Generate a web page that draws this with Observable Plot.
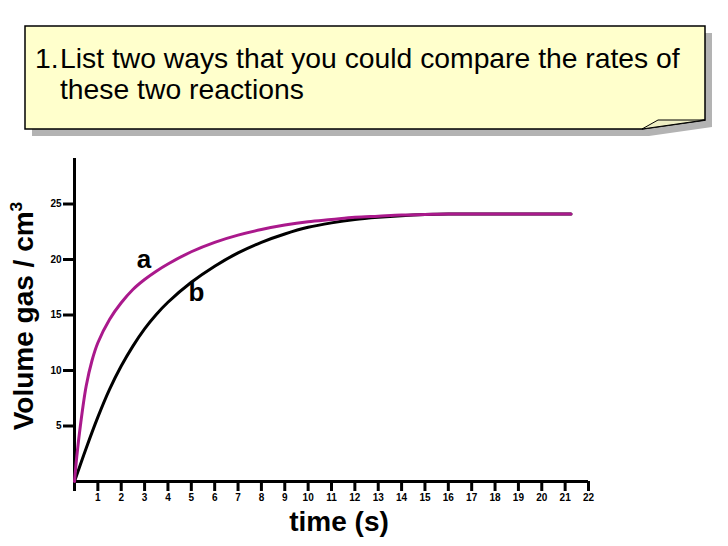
<!DOCTYPE html>
<html>
<head>
<meta charset="utf-8">
<script src="https://cdn.jsdelivr.net/npm/d3@7"></script>
<script src="https://cdn.jsdelivr.net/npm/@observablehq/plot@0.6"></script>
<style>
  html, body { margin: 0; padding: 0; background: #ffffff; }
  body { width: 728px; height: 546px; position: relative; overflow: hidden; font-family: "Liberation Sans", Arial, sans-serif; }
  #title { position: absolute; left: 0; top: 0; }
  #chart { position: absolute; left: 0; top: 140px; }
  #chart g[aria-label$="tick label"] text { font-weight: bold; font-size: 10px; }
  .axlabel { position: absolute; font-weight: bold; font-size: 28px; color: #000; white-space: nowrap; line-height: 1; }
  .axlabel sup { font-size: 0.62em; vertical-align: 0.62em; line-height: 0; }
  #ylab { left: 24px; top: 316px; transform: translate(-50%, -50%) rotate(-90deg); }
  #xlab { left: 339px; top: 508px; transform: translateX(-50%); }
</style>
</head>
<body>
<svg id="title" width="728" height="140" xmlns="http://www.w3.org/2000/svg">
  <polygon points="32,33 712,33 712,127 649,136 32,136" fill="#b3b3b3"/>
  <polygon points="25,26 705,26 705,120 642,129 25,129" fill="#ffffcc" stroke="#000" stroke-width="1.5"/>
  <polygon points="642,129 658,120 705,120" fill="#eeeec4" stroke="#000" stroke-width="1"/>
  <g font-family="Liberation Sans, Arial, sans-serif" font-size="28.3" fill="#000">
    <text x="35" y="68">1.</text>
    <text x="60" y="68">List two ways that you could compare the rates of</text>
    <text x="60" y="99">these two reactions</text>
  </g>
</svg>
<div id="chart"></div>
<div class="axlabel" id="ylab">Volume gas / cm<sup>3</sup></div>
<div class="axlabel" id="xlab">time (s)</div>
<script>
// Reaction a (magenta) and reaction b (black): time in s, volume in cm³
const timeA = [0, 0.1, 0.25, 0.5, 0.75, 1, 1.5, 2, 2.5, 3, 3.5, 4, 5, 6, 7, 8, 9, 10, 11, 12, 13, 14, 15, 16, 17, 18, 19, 20, 21, 21.25];
const volumeA = [0, 2.3, 5.0, 8.6, 10.9, 12.5, 14.6, 16.1, 17.3, 18.2, 18.95, 19.6, 20.7, 21.55, 22.2, 22.7, 23.1, 23.4, 23.6, 23.8, 23.9, 24.0, 24.05, 24.1, 24.1, 24.1, 24.1, 24.1, 24.1, 24.1];
const timeB = [0, 0.5, 1, 1.5, 2, 2.5, 3, 3.5, 4, 5, 6, 7, 8, 9, 10, 11, 12, 13, 14, 15, 16, 17, 18, 19, 20, 21, 21.25];
const volumeB = [0, 3.0, 5.8, 8.3, 10.4, 12.2, 13.75, 15.05, 16.15, 17.95, 19.4, 20.6, 21.55, 22.3, 22.9, 23.3, 23.6, 23.8, 23.95, 24.05, 24.1, 24.1, 24.1, 24.1, 24.1, 24.1, 24.1];

const xTicks = [0, 1, 2, 3, 4, 5, 6, 7, 8, 9, 10, 11, 12, 13, 14, 15, 16, 17, 18, 19, 20, 21, 22];
const yTicks = [5, 10, 15, 20, 25];

const curveLabels = ["a", "b"];
const curveLabelTime = [2.97, 5.22];
const curveLabelVolume = [20.0, 17.05];

const colorA = "#aa198c";
const colorB = "#000000";

const rowsA = timeA.map((t, i) => ({t, v: volumeA[i]}));
const rowsB = timeB.map((t, i) => ({t, v: volumeB[i]}));
const labelRows = curveLabels.map((s, i) => ({s, t: curveLabelTime[i], v: curveLabelVolume[i]}));

const chart = Plot.plot({
  width: 728,
  height: 406,
  marginTop: 18,
  marginBottom: 65,
  marginLeft: 74,
  marginRight: 140,
  x: {domain: [0, 22]},
  y: {domain: [0, 29.1]},
  style: {fontFamily: "Liberation Sans, Arial, sans-serif", background: "transparent", color: "#000"},
  marks: [
    Plot.axisX({ticks: xTicks, tickSize: 10, strokeWidth: 3, tickPadding: 2, tickFormat: d => d === 0 ? "" : String(d), fontWeight: "bold", fontSize: 10, label: null}),
    Plot.axisY({ticks: yTicks, tickSize: 11, strokeWidth: 3, tickPadding: 2, fontWeight: "bold", fontSize: 10, label: null}),
    Plot.ruleY([0], {strokeWidth: 3}),
    Plot.ruleX([0], {strokeWidth: 3}),
    Plot.line(rowsB, {x: "t", y: "v", stroke: colorB, strokeWidth: 3, curve: "catmull-rom"}),
    Plot.line(rowsA, {x: "t", y: "v", stroke: colorA, strokeWidth: 3, curve: "catmull-rom"}),
    Plot.text(labelRows, {x: "t", y: "v", text: "s", fontSize: 26, fontWeight: "bold", fill: "#000"})
  ]
});
document.getElementById("chart").appendChild(chart);
</script>
</body>
</html>
